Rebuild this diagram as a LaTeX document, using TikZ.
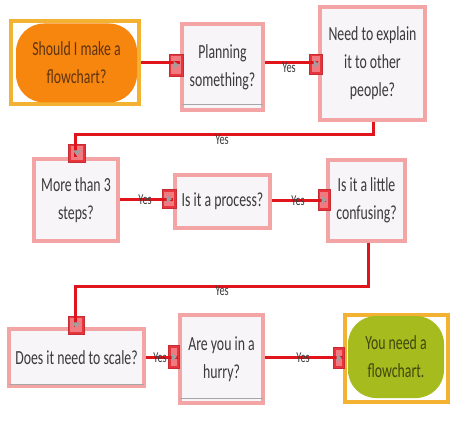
\documentclass[tikz,border=0pt]{standalone}
\usepackage{fontspec}
\setmainfont{Carlito}[FakeStretch=0.69]
\usetikzlibrary{calc}
\definecolor{pinkframe}{HTML}{F3A5A5}
\definecolor{boxfill}{HTML}{F7F5F7}
\definecolor{orangeframe}{HTML}{F4B232}
\definecolor{orangefill}{HTML}{F7860F}
\definecolor{greenfill}{HTML}{A6BB1D}
\definecolor{linered}{HTML}{E0141B}
\definecolor{portred}{HTML}{E8353D}
\definecolor{portin}{HTML}{F07A80}
\definecolor{txt}{HTML}{3A3A3A}
\definecolor{browntxt}{HTML}{5E3410}
\definecolor{olivetxt}{HTML}{3E4810}
\tikzset{
  qbox/.style={draw=pinkframe, line width=4pt, fill=boxfill, align=center,
    text=txt, font=\fontsize{20}{28}\selectfont, inner sep=2pt},
  endframe/.style={draw=orangeframe, line width=3.5pt, fill=white},
  endshape/.style={rounded corners=28pt, align=center,
    font=\fontsize{20}{28}\selectfont, inner sep=2pt},
  portbox/.style={fill=portred, draw=portred!85!black, line width=0.8pt,
    inner sep=0pt},
  tri/.style={fill=gray!75},
  conn/.style={draw=linered, line width=3pt},
  yeslbl/.style={text=txt, font=\fontsize{15}{16}\selectfont, inner sep=0pt},
  shadowline/.style={draw=gray!70, line width=0.8pt}
}
\newcommand{\rtri}[1]{\fill[tri] ($(#1)+(-2.5,-4)$) -- ($(#1)+(3,0)$) -- ($(#1)+(-2.5,4)$) -- cycle;}
\newcommand{\dtri}[1]{\fill[tri] ($(#1)+(-4,-2.5)$) -- ($(#1)+(0,3)$) -- ($(#1)+(4,-2.5)$) -- cycle;}
\begin{document}
\begin{tikzpicture}[x=1pt,y=-1pt]
\useasboundingbox[fill=white] (0,0) rectangle (474,438);
% start
\node[endframe, minimum width=128pt, minimum height=83pt] (n1) at (75,62.5) {};
\node[endshape, fill=orangefill, text=browntxt, minimum width=121pt, minimum height=79pt] (n1in) at (76.5,63) {Should I make a\\flowchart?};
% boxes
\node[qbox, minimum width=81pt, minimum height=86pt] (n2) at (222.5,67) {Planning\\something?};
\node[qbox, minimum width=105pt, minimum height=113pt] (n3) at (372.5,63.5) {Need to explain\\it to other\\people?};
\node[qbox, minimum width=84pt, minimum height=82pt] (n4) at (76,200) {More than 3\\steps?};
\node[qbox, minimum width=95pt, minimum height=53pt] (n5) at (222.5,201.5) {Is it a process?};
\node[qbox, minimum width=77pt, minimum height=81pt] (n6) at (366.5,200.5) {Is it a little\\confusing?};
\node[qbox, minimum width=135pt, minimum height=57pt] (n7) at (76.5,357.5) {Does it need to scale?};
\node[qbox, minimum width=83pt, minimum height=88pt] (n8) at (221.5,359) {Are you in a\\hurry?};
% end
\node[endframe, minimum width=103pt, minimum height=87pt] (n9) at (396.5,358.5) {};
\node[endshape, fill=greenfill, text=olivetxt, minimum width=96pt, minimum height=82pt] (n9in) at (396,357) {You need a\\flowchart.};
% shadow lines inside boxes
\draw[shadowline] ($(n2.south west)+(2,-8)$) -- ($(n2.south east)+(-2,-8)$);
\draw[shadowline] ($(n7.south west)+(2,-4)$) -- ($(n7.south east)+(-2,-4)$);
\draw[shadowline] ($(n8.south west)+(2,-7)$) -- ($(n8.south east)+(-2,-7)$);
% ports
\node[portbox, minimum width=14pt, minimum height=22pt] (p1) at (176,65) {};
\node[portbox, minimum width=13pt, minimum height=20pt] (p2) at (316,64) {};
\node[portbox, minimum width=17pt, minimum height=18pt] (p3) at (77,153) {};
\node[portbox, minimum width=14pt, minimum height=19pt] (p4) at (169,199) {};
\node[portbox, minimum width=12pt, minimum height=21pt] (p5) at (324,200) {};
\node[portbox, minimum width=16pt, minimum height=18pt] (p6) at (76,325) {};
\node[portbox, minimum width=11pt, minimum height=23pt] (p7) at (174,357) {};
\node[portbox, minimum width=11pt, minimum height=21pt] (p8) at (339,358) {};
\foreach \p in {p1,p2,p3,p4,p5,p6,p7,p8}{
  \fill[portin] ($(\p.south west)+(2.5,-2.5)$) rectangle ($(\p.north east)+(-2.5,2.5)$);
}
% bend coordinates
\coordinate (b3a) at (373,135);
\coordinate (b3b) at (75,135);
\coordinate (b6a) at (368,287);
\coordinate (b6b) at (75,287);
% connectors
\draw[conn] (n1.east |- 0,63) -- (n2.west |- 0,63);
\draw[conn] (n2.east |- 0,63) -- (n3.west |- 0,63);
\draw[conn] (n3.south -| b3a) -- (b3a) -- (b3b) -- (b3b |- n4.north);
\draw[conn] (n4.east |- 0,200) -- (n5.west |- 0,200);
\draw[conn] (n5.east |- 0,201) -- (n6.west |- 0,201);
\draw[conn] (n6.south -| b6a) -- (b6a) -- (b6b) -- (b6b |- n7.north);
\draw[conn] (n7.east |- 0,358) -- (n8.west |- 0,358);
\draw[conn] (n8.east |- 0,358) -- (n9.west |- 0,358);
% port triangles
\rtri{p1} \rtri{p2} \dtri{p3} \rtri{p4} \rtri{p5} \dtri{p6} \rtri{p7} \rtri{p8}
% labels
\node[yeslbl] (y2) at (289,68) {Yes};
\node[yeslbl] (y3) at (222,140) {Yes};
\node[yeslbl] (y4) at (145,200) {Yes};
\node[yeslbl] (y5) at (298,201) {Yes};
\node[yeslbl] (y6) at (222,291) {Yes};
\node[yeslbl] (y7) at (160,358) {Yes};
\node[yeslbl] (y8) at (303,358) {Yes};
\end{tikzpicture}
\end{document}
